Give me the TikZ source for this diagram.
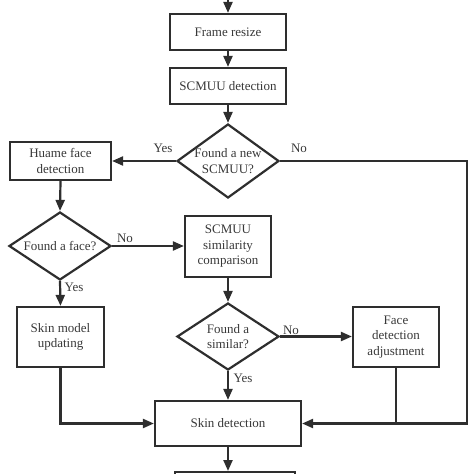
\documentclass[tikz,border=0pt]{standalone}
\usepackage{fontspec}
\setmainfont{Liberation Serif}
\usetikzlibrary{shapes.geometric,arrows.meta}
\definecolor{ln}{HTML}{2E2E2E}
\definecolor{tx}{HTML}{383838}
\tikzset{
  boxnode/.style={draw=ln,line width=2.2pt,rectangle,inner sep=0pt,align=center,text=tx,font=\fontsize{13}{15.5}\selectfont},
  decision/.style={draw=ln,line width=2.2pt,diamond,inner sep=0pt,align=center,text=tx,font=\fontsize{13}{15.5}\selectfont},
  lbl/.style={text=tx,font=\fontsize{13}{15.5}\selectfont,inner sep=0pt},
  conn/.style={draw=ln,line width=2.2pt},
  arr/.style={conn,-{Triangle[length=11pt,width=9pt]}}
}
\begin{document}
\begin{tikzpicture}[x=1pt,y=-1pt]
\useasboundingbox (0,0) rectangle (474,474);
\begin{scope}
\clip (0,0) rectangle (474,474);
\node[boxnode,minimum width=116pt,minimum height=36pt] (fr) at (228,32) {Frame resize};
\node[boxnode,minimum width=116pt,minimum height=36pt] (det) at (228,86) {SCMUU detection};
\node[decision,aspect=1.38,minimum width=102pt,minimum height=74pt] (d1) at (228,161) {Found a new\\SCMUU?};
\node[boxnode,minimum width=101pt,minimum height=38pt] (hfd) at (60.5,161) {Huame face\\detection};
\node[decision,aspect=1.5,minimum width=102pt,minimum height=68pt] (d2) at (60,246) {Found a face?};
\node[boxnode,minimum width=86pt,minimum height=61pt] (sim) at (228,246.5) {SCMUU\\similarity\\comparison};
\node[decision,aspect=1.5,minimum width=102pt,minimum height=67pt] (d3) at (228,336.5) {Found a\\similar?};
\node[boxnode,minimum width=87pt,minimum height=60pt] (smu) at (60.5,337) {Skin model\\updating};
\node[boxnode,minimum width=86pt,minimum height=60pt] (fda) at (396,337) {Face\\detection\\adjustment};
\node[boxnode,minimum width=146pt,minimum height=45pt] (skin) at (228,423.5) {Skin detection};
\node[boxnode,minimum width=120pt,minimum height=40pt,anchor=north] (nxt) at (235,471) {};
\coordinate (top) at (228,-2);
\coordinate (rc) at (467,161);

\draw[arr] (top) -- (fr.north);
\draw[arr] (fr.south) -- (det.north);
\draw[arr] (det.south) -- (d1.north);
\draw[arr] (d1.west) -- (hfd.east);
\draw[arr] (hfd.south) -- (d2.north);
\draw[arr] (d2.east) -- (sim.west |- d2.east);
\draw[arr] (d2.south) -- (smu.north);
\draw[arr] (sim.south) -- (d3.north);
\draw[arr] (d3.east) -- (fda.west |- d3.east);
\draw[arr] (d3.south) -- (skin.north);
\draw[arr] (smu.south) |- (skin.west);
\draw[arr] (d1.east) -- (rc) |- (skin.east);
\draw[conn] (fda.south) -- (fda.south |- skin.east);
\draw[arr] (skin.south) -- (skin.south |- nxt.north);

\node[lbl] (y1) at (163,148) {Yes};
\node[lbl] (n1) at (299,148) {No};
\node[lbl] (n2) at (125,238) {No};
\node[lbl] (y2) at (74,287) {Yes};
\node[lbl] (n3) at (291,330) {No};
\node[lbl] (y3) at (243,378) {Yes};
\end{scope}
\end{tikzpicture}
\end{document}
